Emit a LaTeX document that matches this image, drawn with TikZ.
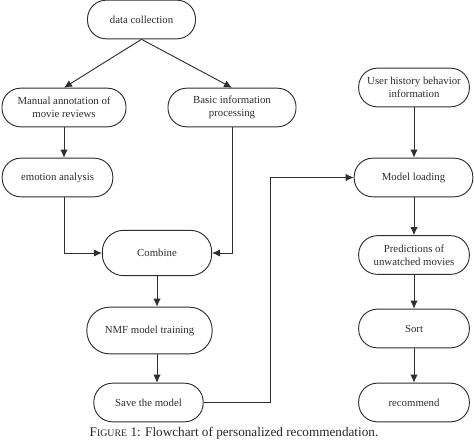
\documentclass[tikz,border=0pt]{standalone}
\usepackage{fontspec}
\setmainfont{Liberation Serif}
\usetikzlibrary{arrows.meta}
\definecolor{ink}{HTML}{2E2E2E}
\begin{document}
\begin{tikzpicture}[x=0.75pt,y=-0.75pt,
  box/.style={draw=ink,line width=0.7pt,rectangle,rounded corners=14pt,minimum height=29pt,
    align=center,font=\fontsize{8.1}{9.4}\selectfont,text=ink,inner sep=1pt},
  conn/.style={draw=ink,line width=0.7pt},
  arr/.style={conn,-{Latex[length=6pt,width=5.5pt]}}]
\useasboundingbox (0,0) rectangle (474,443);
\node[box,minimum width=81pt] (dc) at (141.5,19.5) {data collection};
\node[box,minimum width=93pt] (man) at (64,107.5) {Manual annotation of\\movie reviews};
\node[box,minimum width=96pt] (bas) at (232,107.5) {Basic information\\processing};
\node[box,minimum width=83pt] (emo) at (57.5,177.5) {emotion analysis};
\node[box,minimum width=82pt,minimum height=34pt,rounded corners=16pt] (comb) at (157,253) {Combine};
\node[box,minimum width=94pt,minimum height=35pt,rounded corners=17pt] (nmf) at (149.5,330.5) {NMF model training};
\node[box,minimum width=82pt] (save) at (148.5,402.5) {Save the model};
\node[box,minimum width=83pt] (uh) at (414,87.5) {User history behavior\\information};
\node[box,minimum width=89pt] (ml) at (413.5,177.5) {Model loading};
\node[box,minimum width=83pt] (pred) at (414,255) {Predictions of\\unwatched movies};
\node[box,minimum width=83pt] (sort) at (414,328.5) {Sort};
\node[box,minimum width=83pt] (rec) at (414,402.5) {recommend};
\node[font=\fontsize{9.9}{11}\selectfont,text=black!85,inner sep=0pt] (cap) at (234,433.5) {F{\fontsize{7.4}{9}\selectfont IGURE} 1: Flowchart of personalized recommendation.};
\coordinate (cx) at (157,0);
\coordinate (turn) at (270,402.5);
\draw[arr] (dc.south) -- (man.north);
\draw[arr] (dc.south) -- (bas.north);
\draw[arr] (man.south) -- (emo.north -| man.south);
\draw[arr] (emo.south -| man.south) |- (comb.west);
\draw[arr] (bas.south) |- (comb.east);
\draw[arr] (comb.south) -- (cx |- nmf.north);
\draw[arr] (cx |- nmf.south) -- (cx |- save.north);
\draw[arr] (save.east) -- (turn) |- (ml.west);
\draw[arr] (uh.south) -- (ml.north -| uh.south);
\draw[arr] (ml.south -| uh.south) -- (pred.north);
\draw[arr] (pred.south) -- (sort.north);
\draw[arr] (sort.south) -- (rec.north);
\end{tikzpicture}
\end{document}
